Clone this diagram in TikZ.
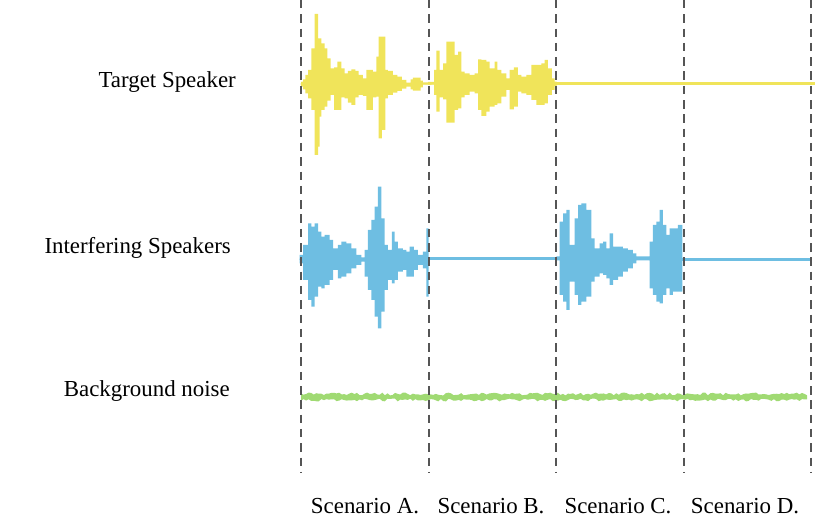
\documentclass[tikz,border=0pt]{standalone}
\usepackage{fontspec}
\setmainfont{Liberation Serif}
\definecolor{ylw}{RGB}{240,228,90}
\definecolor{blu}{RGB}{110,190,226}
\definecolor{grn}{RGB}{160,218,115}
\definecolor{dash}{RGB}{85,85,85}
\begin{document}
\begin{tikzpicture}[x=1pt,y=1pt,
  lbl/.style={inner sep=0pt,font=\fontsize{22.9}{27}\selectfont},
  sep/.style={draw=dash,line width=1.8pt,dash pattern=on 8.5pt off 5.8pt},
  zm/.style={x=0.3333pt,y=-0.3333pt}]
\useasboundingbox (0,0) rectangle (822,532);
% ---------- labels
\node[lbl,anchor=east] (tgt) at (236,450) {Target Speaker};
\node[lbl,anchor=east] (int) at (231,284) {Interfering Speakers};
\node[lbl,anchor=east] (bg)  at (230,141) {Background noise};
\node[lbl] (sa) at (365,26) {Scenario A.};
\node[lbl] (sb) at (491,26) {Scenario B.};
\node[lbl] (sc) at (618,26) {Scenario C.};
\node[lbl] (sd) at (745,26) {Scenario D.};
% ---------- target speaker
\begin{scope}[shift={(298,522)},zm]
\def\wav{10/15/215/230,15/22/208/238,22/30/195/250,30/40/180/265,40/50/115/300,
 50/60/12/435,60/65/85/410,65/70/85/320,70/80/100/300,80/88/115/290,88/98/145/272,98/108/175/255,
 108/118/172/300,118/130/155/300,130/140/175/262,140/150/190/265,150/160/183/278,160/172/178/285,
 172/182/183/262,182/195/195/255,195/205/205/258,205/215/180/300,215/225/180/300,225/235/185/262,
 235/242/140/260,242/252/80/385,252/262/80/360,262/270/180/265,270/285/183/255,285/298/195/248,
 298/312/200/243,312/325/210/236,325/338/218/230,338/345/208/238,345/368/203/242,368/375/212/232,
 375/400/217/223}
\fill[ylw] (8,224) \foreach \a/\b/\t/\u in \wav { -- (\a,\t) -- (\b,\t) } -- (400,224) -- cycle;
\fill[ylw] (8,220) \foreach \a/\b/\t/\u in \wav { -- (\a,\u) -- (\b,\u) } -- (400,220) -- cycle;
\end{scope}
\begin{scope}[shift={(428,522)},zm]
\def\wav{0/18/216/223,18/25/180/255,25/35/122/305,35/45/180/262,45/55/160/268,
 55/80/95/338,80/90/135/300,90/100/125/295,100/110/185/262,110/125/190/255,125/140/195/245,
 140/150/190/250,150/160/148/300,160/175/150/318,175/185/155/305,185/200/175/290,200/208/155/285,
 208/220/180/280,220/235/190/260,235/245/205/240,245/258/180/298,258/270/172/290,270/280/195/245,
 280/295/200/250,295/310/195/255,310/325/165/270,325/340/165/285,340/350/160/285,350/360/150/280,
 360/372/175/255,372/380/205/240,380/386/215/228}
\fill[ylw] (0,224) \foreach \a/\b/\t/\u in \wav { -- (\a,\t) -- (\b,\t) } -- (386,224) -- cycle;
\fill[ylw] (0,218) \foreach \a/\b/\t/\u in \wav { -- (\a,\u) -- (\b,\u) } -- (386,218) -- cycle;
\end{scope}
\coordinate (ty1) at (555,448);
\coordinate (ty2) at (815,448);
\draw[ylw,line width=3pt] (ty1) -- (ty2);
% ---------- interfering speakers
\begin{scope}[shift={(298,352)},zm]
\def\wav{5/15/225/250,15/30/195/300,30/40/130/360,40/50/140/380,50/60/130/350,
 60/70/155/320,70/80/170/325,80/95/165/315,95/105/180/300,105/120/205/270,120/130/195/295,
 130/145/185/290,145/160/190/280,160/175/205/265,175/190/225/255,190/200/232/245,200/210/210/290,
 210/220/150/330,220/230/120/360,230/240/80/410,240/250/20/445,250/260/115/395,260/270/195/330,
 270/282/210/300,282/290/155/310,290/300/185/300,300/315/205/275,315/325/210/270,325/335/215/290,
 335/348/200/290,348/360/210/270,360/375/225/255,375/385/215/265,385/392/145/350}
\fill[blu] (5,240) \foreach \a/\b/\t/\u in \wav { -- (\a,\t) -- (\b,\t) } -- (392,240) -- cycle;
\fill[blu] (5,236) \foreach \a/\b/\t/\u in \wav { -- (\a,\u) -- (\b,\u) } -- (392,236) -- cycle;
\end{scope}
\begin{scope}[shift={(553,337)},zm]
\def\wav{10/20/184/196,20/30/80/300,30/40/55/320,40/50/45/345,50/65/150/260,65/75/70/300,
 75/85/30/330,85/100/25/320,100/115/45/305,115/125/130/260,125/140/160/245,140/150/145/235,
 150/160/140/240,160/170/160/250,170/180/115/270,180/195/155/255,195/210/155/245,210/225/160/230,
 225/240/165/220,240/250/175/205,250/290/184/196,290/300/140/280,300/310/90/300,310/320/80/320,
 320/330/45/325,330/340/90/300,340/350/120/280,350/360/100/300,360/375/100/290,375/388/90/290}
\fill[blu] (10,192) \foreach \a/\b/\t/\u in \wav { -- (\a,\t) -- (\b,\t) } -- (388,192) -- cycle;
\fill[blu] (10,188) \foreach \a/\b/\t/\u in \wav { -- (\a,\u) -- (\b,\u) } -- (388,188) -- cycle;
\end{scope}
\coordinate (ib1) at (429,273);
\coordinate (ib2) at (560,273);
\coordinate (ib3) at (681,272);
\coordinate (ib4) at (811,272);
\draw[blu,line width=3pt] (ib1) -- (ib2);
\draw[blu,line width=3pt] (ib3) -- (ib4);
% ---------- background noise
\pgfmathsetseed{7}
\fill[grn] plot[domain=301:807,samples=200] (\x,{135+3.0+1.4*rand})
  -- plot[domain=807:301,samples=200] (\x,{135-3.0+1.4*rand}) -- cycle;
% ---------- separators
\foreach \xx/\nm in {301/a,429/b,556/c,684/d,811/e}{
  \coordinate (t\nm) at (\xx,532);
  \coordinate (b\nm) at (\xx,60);
  \draw[sep] (t\nm) -- (b\nm);
}
\end{tikzpicture}
\end{document}
